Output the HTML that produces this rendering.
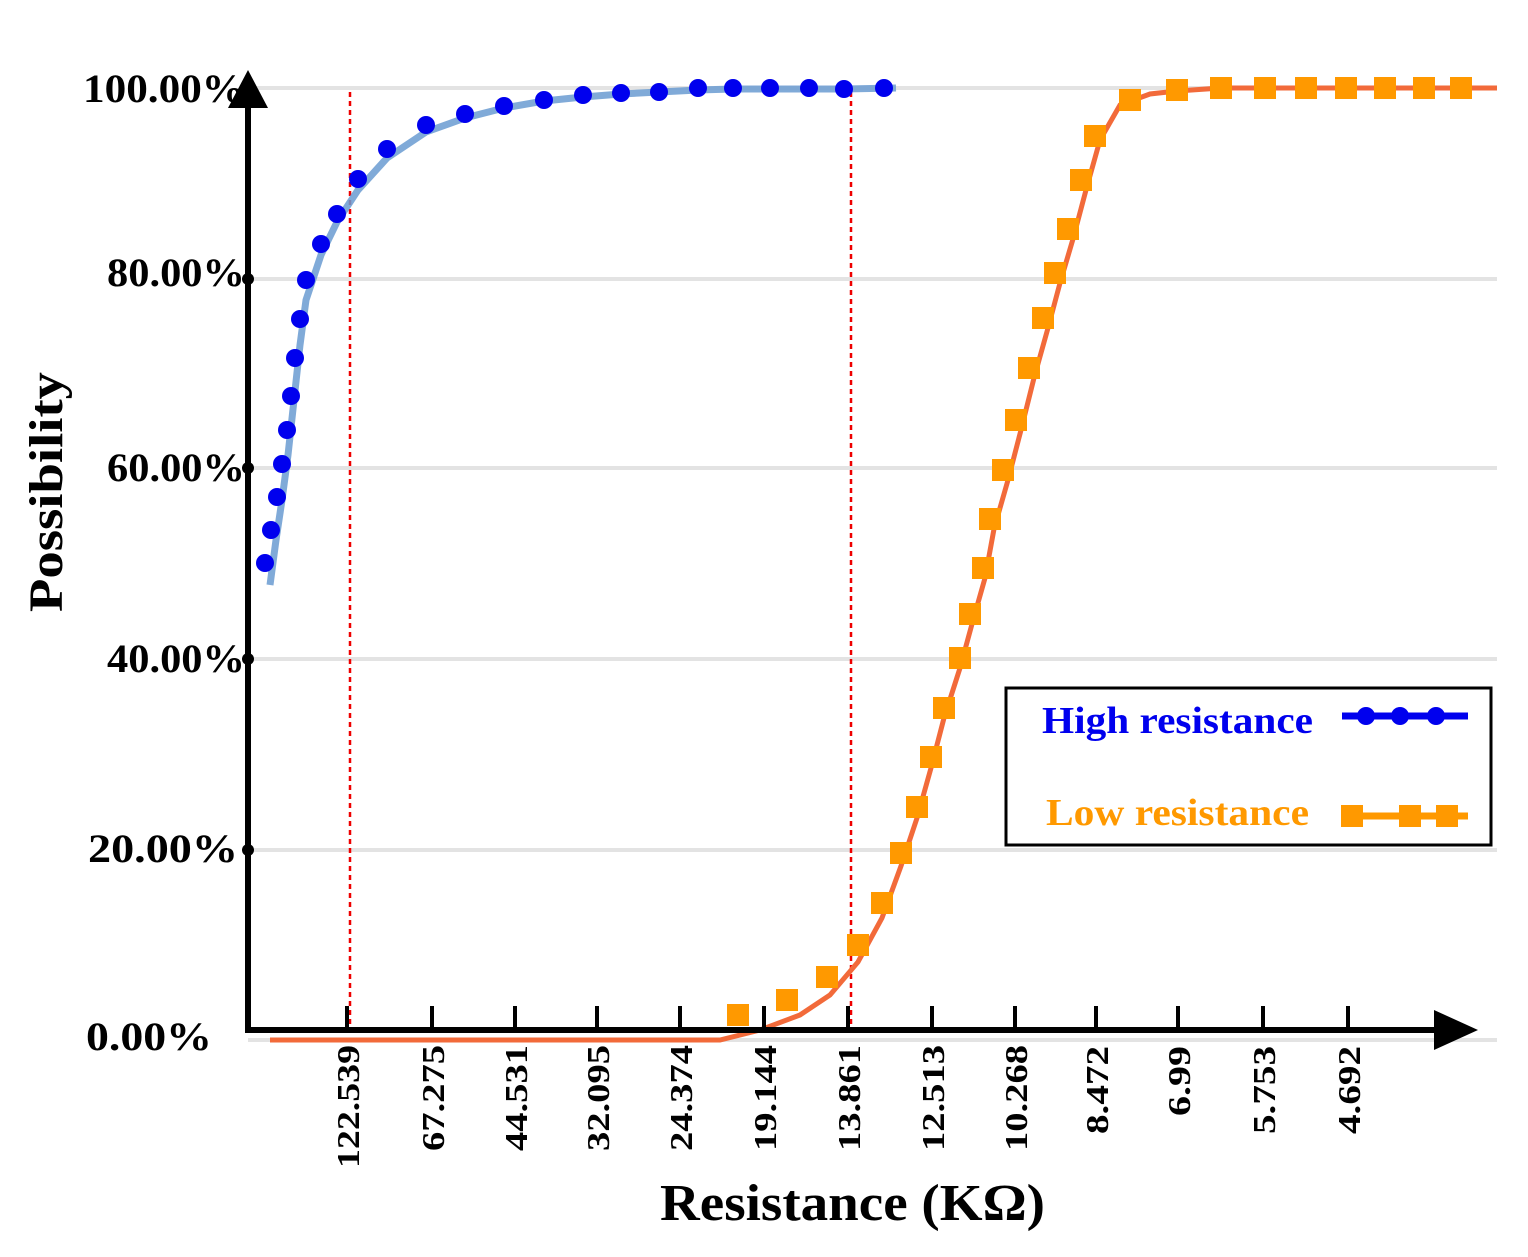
<!DOCTYPE html>
<html><head><meta charset="utf-8"><style>body{margin:0;background:#fff}</style></head><body>
<svg width="1528" height="1252" xmlns="http://www.w3.org/2000/svg" font-family="Liberation Serif, serif" font-weight="bold">
<g stroke="#e3e3e3" stroke-width="4">
<line x1="248" y1="88" x2="1497" y2="88"/><line x1="248" y1="279" x2="1497" y2="279"/>
<line x1="248" y1="468" x2="1497" y2="468"/><line x1="248" y1="659" x2="1497" y2="659"/>
<line x1="248" y1="850" x2="1497" y2="850"/><line x1="248" y1="1040" x2="1497" y2="1040"/>
</g>
<g stroke="#e00" stroke-width="2.5" stroke-dasharray="5,4">
<line x1="350" y1="92" x2="350" y2="1030"/><line x1="851" y1="92" x2="851" y2="1030"/>
</g>
<polyline fill="none" stroke="#6a9bd1" stroke-width="7" opacity="0.85" points="270,585 276,540 282,500 288,455 294,400 300,345 306,300 321,255 337,222 358,190 387,158 426,132 465,118 504,108 544,101 583,97 621,94 659,92 698,90 733,89 770,89 809,89 844,89 896,88"/>
<polyline fill="none" stroke="#f26a3a" stroke-width="5" points="270,1040 720,1040 760,1030 800,1015 830,995 858,962 882,918 901,866 917,818 931,768 944,718 960,668 972,624 985,578 994,529 1008,480 1021,430 1034,378 1048,328 1060,283 1073,239 1086,190 1100,140 1120,105 1150,94 1177,91 1221,88 1497,88"/>
<g fill="#0000ee">
<circle cx="265" cy="563" r="9"/><circle cx="271" cy="530" r="9"/><circle cx="277" cy="497" r="9"/><circle cx="282" cy="464" r="9"/><circle cx="287" cy="430" r="9"/><circle cx="291" cy="396" r="9"/><circle cx="295" cy="358" r="9"/><circle cx="300" cy="319" r="9"/><circle cx="306" cy="280" r="9"/><circle cx="321" cy="244" r="9"/><circle cx="337" cy="214" r="9"/><circle cx="358" cy="179" r="9"/><circle cx="387" cy="149" r="9"/><circle cx="426" cy="125" r="9"/><circle cx="465" cy="114" r="9"/><circle cx="504" cy="106" r="9"/><circle cx="544" cy="100" r="9"/><circle cx="583" cy="95" r="9"/><circle cx="621" cy="93" r="9"/><circle cx="659" cy="92" r="9"/><circle cx="698" cy="88" r="9"/><circle cx="733" cy="88" r="9"/><circle cx="770" cy="88" r="9"/><circle cx="809" cy="88" r="9"/><circle cx="844" cy="89" r="9"/><circle cx="884" cy="88" r="9"/>
</g>
<g fill="#ff9900">
<rect x="727" y="1004" width="22" height="22"/><rect x="776" y="989" width="22" height="22"/><rect x="816" y="966" width="22" height="22"/><rect x="847" y="934" width="22" height="22"/><rect x="871" y="892" width="22" height="22"/><rect x="890" y="842" width="22" height="22"/><rect x="906" y="796" width="22" height="22"/><rect x="920" y="746" width="22" height="22"/><rect x="933" y="697" width="22" height="22"/><rect x="949" y="647" width="22" height="22"/><rect x="959" y="603" width="22" height="22"/><rect x="972" y="557" width="22" height="22"/><rect x="979" y="508" width="22" height="22"/><rect x="992" y="459" width="22" height="22"/><rect x="1005" y="409" width="22" height="22"/><rect x="1018" y="357" width="22" height="22"/><rect x="1032" y="307" width="22" height="22"/><rect x="1044" y="262" width="22" height="22"/><rect x="1057" y="218" width="22" height="22"/><rect x="1070" y="169" width="22" height="22"/><rect x="1084" y="125" width="22" height="22"/><rect x="1119" y="89" width="22" height="22"/><rect x="1166" y="79" width="22" height="22"/><rect x="1210" y="77" width="22" height="22"/><rect x="1254" y="77" width="22" height="22"/><rect x="1295" y="77" width="22" height="22"/><rect x="1335" y="77" width="22" height="22"/><rect x="1374" y="77" width="22" height="22"/><rect x="1413" y="77" width="22" height="22"/><rect x="1450" y="77" width="22" height="22"/>
</g>
<g stroke="#000" stroke-width="6">
<line x1="248" y1="100" x2="248" y2="1033"/><line x1="245" y1="1030" x2="1450" y2="1030"/>
</g>
<polygon points="248,70 228,108 268,108" fill="#000"/>
<polygon points="1478,1030 1434,1010 1434,1050" fill="#000"/>
<g stroke="#000" stroke-width="4">
<line x1="347" y1="1006" x2="347" y2="1030"/><line x1="432" y1="1006" x2="432" y2="1030"/><line x1="515" y1="1006" x2="515" y2="1030"/><line x1="597" y1="1006" x2="597" y2="1030"/><line x1="680" y1="1006" x2="680" y2="1030"/><line x1="764" y1="1006" x2="764" y2="1030"/><line x1="848" y1="1006" x2="848" y2="1030"/><line x1="932" y1="1006" x2="932" y2="1030"/><line x1="1015" y1="1006" x2="1015" y2="1030"/><line x1="1096" y1="1006" x2="1096" y2="1030"/><line x1="1178" y1="1006" x2="1178" y2="1030"/><line x1="1263" y1="1006" x2="1263" y2="1030"/><line x1="1348" y1="1006" x2="1348" y2="1030"/>
</g>
<g fill="#000"><circle cx="248" cy="279" r="6"/><circle cx="248" cy="468" r="6"/><circle cx="248" cy="659" r="6"/><circle cx="248" cy="850" r="6"/></g>
<g font-size="40" fill="#000" lengthAdjust="spacingAndGlyphs">
<text x="83" y="102" textLength="162" lengthAdjust="spacingAndGlyphs">100.00%</text>
<text x="107" y="286" textLength="138" lengthAdjust="spacingAndGlyphs">80.00%</text>
<text x="107" y="481" textLength="138" lengthAdjust="spacingAndGlyphs">60.00%</text>
<text x="107" y="672" textLength="138" lengthAdjust="spacingAndGlyphs">40.00%</text>
<text x="88" y="862" textLength="150" lengthAdjust="spacingAndGlyphs">20.00%</text>
<text x="86" y="1050" textLength="126" lengthAdjust="spacingAndGlyphs">0.00%</text>
</g>
<g font-size="32" fill="#000">
<text transform="translate(359,1168) rotate(-90)" textLength="123" lengthAdjust="spacingAndGlyphs">122.539</text>
<text transform="translate(444,1151) rotate(-90)" textLength="106" lengthAdjust="spacingAndGlyphs">67.275</text>
<text transform="translate(527,1151) rotate(-90)" textLength="106" lengthAdjust="spacingAndGlyphs">44.531</text>
<text transform="translate(609,1151) rotate(-90)" textLength="106" lengthAdjust="spacingAndGlyphs">32.095</text>
<text transform="translate(692,1151) rotate(-90)" textLength="106" lengthAdjust="spacingAndGlyphs">24.374</text>
<text transform="translate(776,1151) rotate(-90)" textLength="106" lengthAdjust="spacingAndGlyphs">19.144</text>
<text transform="translate(860,1151) rotate(-90)" textLength="106" lengthAdjust="spacingAndGlyphs">13.861</text>
<text transform="translate(944,1151) rotate(-90)" textLength="106" lengthAdjust="spacingAndGlyphs">12.513</text>
<text transform="translate(1027,1151) rotate(-90)" textLength="106" lengthAdjust="spacingAndGlyphs">10.268</text>
<text transform="translate(1108,1134) rotate(-90)" textLength="88" lengthAdjust="spacingAndGlyphs">8.472</text>
<text transform="translate(1190,1116) rotate(-90)" textLength="70" lengthAdjust="spacingAndGlyphs">6.99</text>
<text transform="translate(1275,1134) rotate(-90)" textLength="88" lengthAdjust="spacingAndGlyphs">5.753</text>
<text transform="translate(1360,1134) rotate(-90)" textLength="88" lengthAdjust="spacingAndGlyphs">4.692</text>
</g>
<text x="660" y="1220" font-size="52" textLength="385" lengthAdjust="spacingAndGlyphs">Resistance (KΩ)</text>
<text transform="translate(62,612) rotate(-90)" font-size="48" textLength="240" lengthAdjust="spacingAndGlyphs">Possibility</text>
<rect x="1006" y="688" width="485" height="157" fill="#fff" stroke="#000" stroke-width="3"/>
<text x="1042" y="733" font-size="38" fill="#0000ee" textLength="271" lengthAdjust="spacingAndGlyphs">High resistance</text>
<text x="1046" y="825" font-size="38" fill="#ff9900" textLength="263" lengthAdjust="spacingAndGlyphs">Low resistance</text>
<line x1="1342" y1="716" x2="1468" y2="716" stroke="#0000ee" stroke-width="7"/>
<g fill="#0000ee"><circle cx="1366" cy="716" r="9"/><circle cx="1400" cy="716" r="9"/><circle cx="1436" cy="716" r="9"/></g>
<line x1="1342" y1="816" x2="1468" y2="816" stroke="#ff9900" stroke-width="7"/>
<g fill="#ff9900"><rect x="1341" y="805" width="22" height="22"/><rect x="1399" y="805" width="22" height="22"/><rect x="1436" y="805" width="22" height="22"/></g>
</svg>
</body></html>
